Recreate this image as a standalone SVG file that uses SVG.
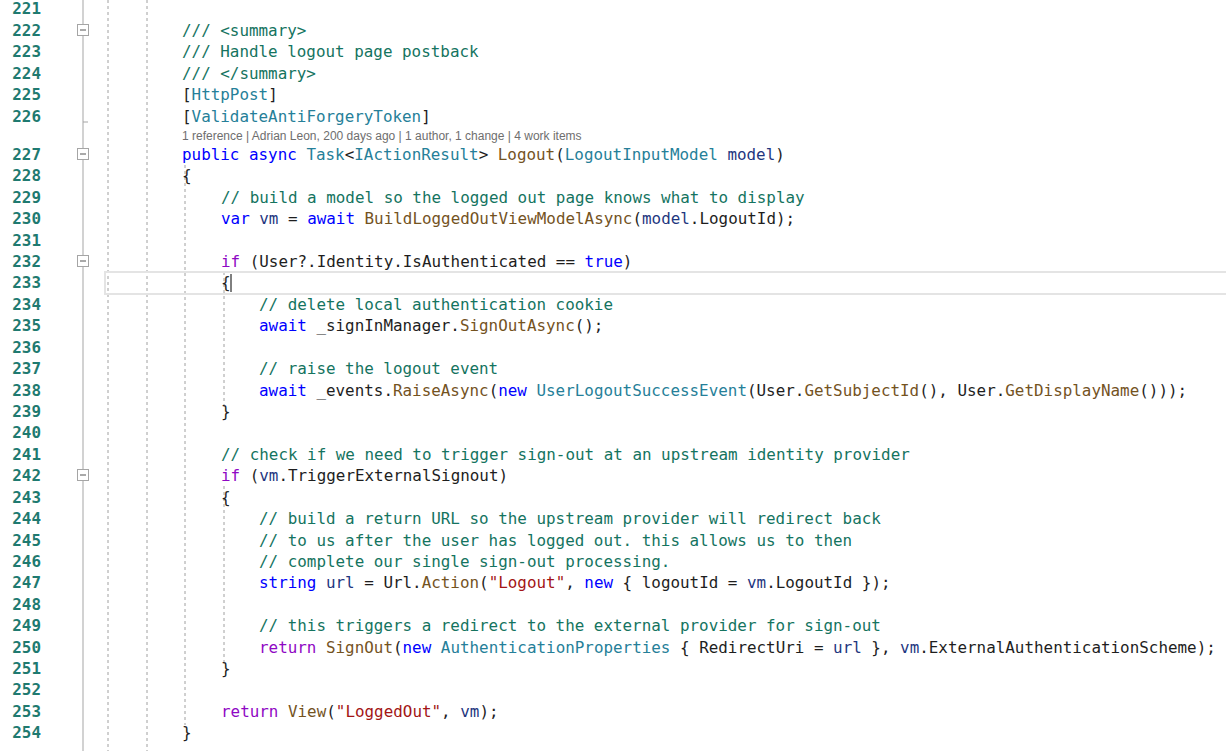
<svg xmlns="http://www.w3.org/2000/svg" width="1226" height="751" viewBox="0 0 1226 751">
<style>
text{font-family:"DejaVu Sans Mono","Liberation Mono",monospace;font-size:15.9px;fill:#1e1e1e;white-space:pre}
.n{fill:#1f7a70;text-anchor:end;font-weight:bold}
.c{fill:#15745f}.k{fill:#0000ff}.p{fill:#8f08c4}.t{fill:#267f99}.m{fill:#74531f}.s{fill:#a31515}.v{fill:#1f377f}
.g{stroke:#a0a0a0;stroke-width:1;stroke-dasharray:3,3}
.lens{font-family:"Liberation Sans",sans-serif;font-size:12px;fill:#6e6e6e}
.fb{fill:#fff;stroke:#a5a5a5}
</style>
<rect width="1226" height="751" fill="#fff"/>
<g id="guides">
<line x1="83" y1="0" x2="83" y2="751" stroke="#a5a5a5"/><line x1="83" y1="122" x2="88" y2="122" stroke="#a5a5a5"/>
<line class="g" x1="108" y1="0" x2="108" y2="751"/>
<line class="g" x1="147" y1="0" x2="147" y2="751"/>
<line class="g" x1="185" y1="165" x2="185" y2="725"/>
<line class="g" x1="224" y1="272" x2="224" y2="405"/>
<line class="g" x1="224" y1="486" x2="224" y2="662"/>
<rect x="105" y="272" width="1125" height="22" fill="none" stroke="#e4e4e4" stroke-width="2"/>
</g>
<g id="folds">
<rect class="fb" x="77.5" y="24.5" width="11" height="11"/><line x1="80" y1="30" x2="86" y2="30" stroke="#555"/>
<rect class="fb" x="77.5" y="148.5" width="11" height="11"/><line x1="80" y1="154" x2="86" y2="154" stroke="#555"/>
<rect class="fb" x="77.5" y="255.5" width="11" height="11"/><line x1="80" y1="261" x2="86" y2="261" stroke="#555"/>
<rect class="fb" x="77.5" y="469.5" width="11" height="11"/><line x1="80" y1="475" x2="86" y2="475" stroke="#555"/>
</g>
<g id="numbers">
<text class="n" x="41" y="14">221</text><text class="n" x="41" y="36">222</text><text class="n" x="41" y="57">223</text>
<text class="n" x="41" y="79">224</text><text class="n" x="41" y="100">225</text><text class="n" x="41" y="122">226</text>
<text class="n" x="41" y="160">227</text><text class="n" x="41" y="181">228</text><text class="n" x="41" y="203">229</text>
<text class="n" x="41" y="224">230</text><text class="n" x="41" y="246">231</text><text class="n" x="41" y="267">232</text>
<text class="n" x="41" y="288">233</text><text class="n" x="41" y="310">234</text><text class="n" x="41" y="331">235</text>
<text class="n" x="41" y="353">236</text><text class="n" x="41" y="374">237</text><text class="n" x="41" y="396">238</text>
<text class="n" x="41" y="417">239</text><text class="n" x="41" y="438">240</text><text class="n" x="41" y="460">241</text>
<text class="n" x="41" y="481">242</text><text class="n" x="41" y="503">243</text><text class="n" x="41" y="524">244</text>
<text class="n" x="41" y="546">245</text><text class="n" x="41" y="567">246</text><text class="n" x="41" y="588">247</text>
<text class="n" x="41" y="610">248</text><text class="n" x="41" y="631">249</text><text class="n" x="41" y="653">250</text>
<text class="n" x="41" y="674">251</text><text class="n" x="41" y="695">252</text><text class="n" x="41" y="717">253</text>
<text class="n" x="41" y="738">254</text>
</g>
<g id="code">
<text x="182" y="36" class="c">/// &lt;summary&gt;</text>
<text x="182" y="57" class="c">/// Handle logout page postback</text>
<text x="182" y="79" class="c">/// &lt;/summary&gt;</text>
<text x="182" y="100">[<tspan class="t">HttpPost</tspan>]</text>
<text x="182" y="122">[<tspan class="t">ValidateAntiForgeryToken</tspan>]</text>
<text x="182" y="140" class="lens">1 reference | Adrian Leon, 200 days ago | 1 author, 1 change | 4 work items</text>
<text x="182" y="160"><tspan class="k">public async</tspan> <tspan class="t">Task</tspan>&lt;<tspan class="t">IActionResult</tspan>&gt; <tspan class="m">Logout</tspan>(<tspan class="t">LogoutInputModel</tspan> <tspan class="v">model</tspan>)</text>
<text x="182" y="181">{</text>
<text x="221" y="203" class="c">// build a model so the logged out page knows what to display</text>
<text x="221" y="224"><tspan class="k">var</tspan> <tspan class="v">vm</tspan> = <tspan class="k">await</tspan> <tspan class="m">BuildLoggedOutViewModelAsync</tspan>(<tspan class="v">model</tspan>.LogoutId);</text>
<text x="221" y="267"><tspan class="p">if</tspan> (User?.Identity.IsAuthenticated == <tspan class="k">true</tspan>)</text>
<text x="221" y="288">{</text>
<line x1="231" y1="274" x2="231" y2="292" stroke="#000"/>
<text x="259" y="310" class="c">// delete local authentication cookie</text>
<text x="259" y="331"><tspan class="k">await</tspan> _signInManager.<tspan class="m">SignOutAsync</tspan>();</text>
<text x="259" y="374" class="c">// raise the logout event</text>
<text x="259" y="396"><tspan class="k">await</tspan> _events.<tspan class="m">RaiseAsync</tspan>(<tspan class="k">new</tspan> <tspan class="t">UserLogoutSuccessEvent</tspan>(User.<tspan class="m">GetSubjectId</tspan>(), User.<tspan class="m">GetDisplayName</tspan>()));</text>
<text x="221" y="417">}</text>
<text x="221" y="460" class="c">// check if we need to trigger sign-out at an upstream identity provider</text>
<text x="221" y="481"><tspan class="p">if</tspan> (<tspan class="v">vm</tspan>.TriggerExternalSignout)</text>
<text x="221" y="503">{</text>
<text x="259" y="524" class="c">// build a return URL so the upstream provider will redirect back</text>
<text x="259" y="546" class="c">// to us after the user has logged out. this allows us to then</text>
<text x="259" y="567" class="c">// complete our single sign-out processing.</text>
<text x="259" y="588"><tspan class="k">string</tspan> <tspan class="v">url</tspan> = Url.<tspan class="m">Action</tspan>(<tspan class="s">"Logout"</tspan>, <tspan class="k">new</tspan> { logoutId = <tspan class="v">vm</tspan>.LogoutId });</text>
<text x="259" y="631" class="c">// this triggers a redirect to the external provider for sign-out</text>
<text x="259" y="653"><tspan class="p">return</tspan> <tspan class="m">SignOut</tspan>(<tspan class="k">new</tspan> <tspan class="t">AuthenticationProperties</tspan> { RedirectUri = <tspan class="v">url</tspan> }, <tspan class="v">vm</tspan>.ExternalAuthenticationScheme);</text>
<text x="221" y="674">}</text>
<text x="221" y="717"><tspan class="p">return</tspan> <tspan class="m">View</tspan>(<tspan class="s">"LoggedOut"</tspan>, <tspan class="v">vm</tspan>);</text>
<text x="182" y="738">}</text>
</g>
</svg>
